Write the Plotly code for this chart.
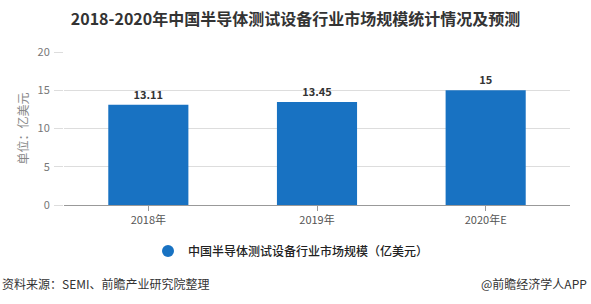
import plotly.graph_objects as go

categories = ["2018年", "2019年", "2020年E"]
values = [13.11, 13.45, 15]
labels = ["13.11", "13.45", "15"]
series_name = "中国半导体测试设备行业市场规模（亿美元）"
title = "2018-2020年中国半导体测试设备行业市场规模统计情况及预测"
y_title = "单位：亿美元"
source = "资料来源：SEMI、前瞻产业研究院整理"
brand = "@前瞻经济学人APP"

FONT = "Noto Sans CJK SC"
BLUE = "#1872c2"

fig = go.Figure()
fig.add_trace(go.Bar(
    x=categories, y=values, text=labels, textposition="outside",
    textfont=dict(family=FONT, size=11, color="#333333", weight="bold"),
    marker=dict(color=BLUE, line=dict(width=0)),
    showlegend=False, cliponaxis=False,
))
fig.add_trace(go.Scatter(
    x=[None], y=[None], mode="markers", name=series_name,
    marker=dict(symbol="circle", size=12, color=BLUE),
))

fig.update_layout(
    width=591, height=304,
    margin=dict(l=64, r=21, t=52, b=99),
    paper_bgcolor="white", plot_bgcolor="white",
    bargap=0.525,
    title=dict(text="<b>" + title + "</b>", x=0.5, xanchor="center", y=0.935, yanchor="middle",
               font=dict(family=FONT, size=16, color="#333333")),
    font=dict(family=FONT, color="#666666"),
    legend=dict(orientation="h", x=(291 - 64) / 506, xanchor="center", y=-46 / 153, yanchor="middle",
                font=dict(family=FONT, size=12, color="#222222", weight=500), itemsizing="constant"),
    xaxis=dict(showgrid=False, showline=True, linecolor="#999999", linewidth=1,
               ticks="outside", ticklen=5, tickcolor="#999999",
               tickfont=dict(family=FONT, size=11, color="#555555")),
    yaxis=dict(range=[0, 20], dtick=5, showgrid=True, gridcolor="#dddddd", gridwidth=1,
               zeroline=False, showline=False,
               ticks="outside", ticklen=9, tickcolor="#dddddd",
               tickfont=dict(family=FONT, size=11, color="#777777"), ticklabelstandoff=2,
               title=dict(text=y_title, font=dict(family=FONT, size=12, color="#888888"), standoff=6)),
    showlegend=True,
)

fig.add_annotation(text=source, xref="paper", yref="paper", x=-64/506, y=-78/153,
                   xanchor="left", yanchor="middle", showarrow=False,
                   font=dict(family=FONT, size=12, color="#333333"))
fig.add_annotation(text=brand, xref="paper", yref="paper", x=(589-64)/506, y=-78/153,
                   xanchor="right", yanchor="middle", showarrow=False,
                   font=dict(family=FONT, size=12, color="#333333"))

fig.write_html("out.html")
